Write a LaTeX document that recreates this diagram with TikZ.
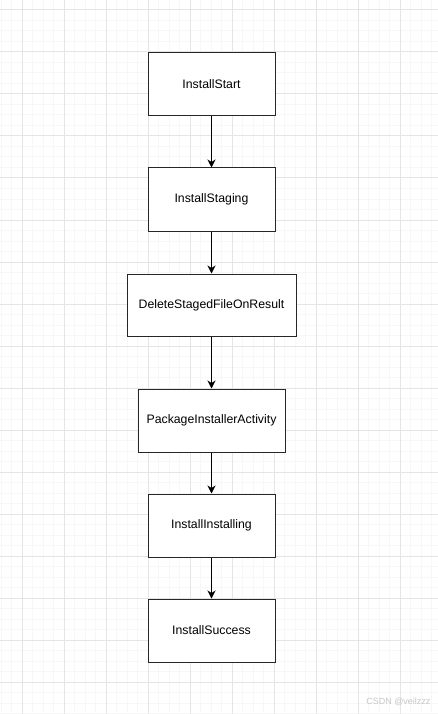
\documentclass[tikz,border=0pt]{standalone}
\usepackage{fontspec}
\setmainfont{Liberation Sans}
\usetikzlibrary{arrows.meta}

\begin{document}
\begin{tikzpicture}[x=1pt,y=-1pt,
  stage/.style={draw=black!85, line width=1pt, fill=white, minimum height=63pt, inner sep=0pt,
    font=\fontsize{12.3}{14}\selectfont},
  flow/.style={black, line width=1pt, -{Stealth[length=8pt, width=8pt, inset=2.5pt]}}]
\useasboundingbox[fill=white] (0,0) rectangle (438,714);
% background grid
\foreach \x in {1,11.5,...,438} \draw[gray!6, line width=1pt] (\x,0)--(\x,714);
\foreach \y in {-0.5,10,...,714} \draw[gray!6, line width=1pt] (0,\y)--(438,\y);
\foreach \x in {22,64,...,438} \draw[gray!20, line width=1pt] (\x,0)--(\x,714);
\foreach \y in {10,52,...,714} \draw[gray!20, line width=1pt] (0,\y)--(438,\y);

\node[stage, minimum width=127pt] (start) at (211.5,84.5) {InstallStart};
\node[stage, minimum width=127pt] (staging) at (211.5,199.5) {InstallStaging};
\node[stage, minimum width=169pt, minimum height=62pt] (delete) at (211.5,305) {DeleteStagedFileOnResult};
\node[stage, minimum width=147pt] (pia) at (211.5,420.5) {PackageInstallerActivity};
\node[stage, minimum width=127pt] (installing) at (211.5,525.5) {InstallInstalling};
\node[stage, minimum width=127pt] (success) at (211.5,630.5) {InstallSuccess};

\draw[flow] (start) -- (staging);
\draw[flow] (staging) -- (delete);
\draw[flow] (delete) -- (pia);
\draw[flow] (pia) -- (installing);
\draw[flow] (installing) -- (success);

\node[anchor=east, text=gray!45, font=\fontsize{9}{10}\selectfont] (mark) at (434,702) {CSDN @veilzzz};
\end{tikzpicture}
\end{document}
